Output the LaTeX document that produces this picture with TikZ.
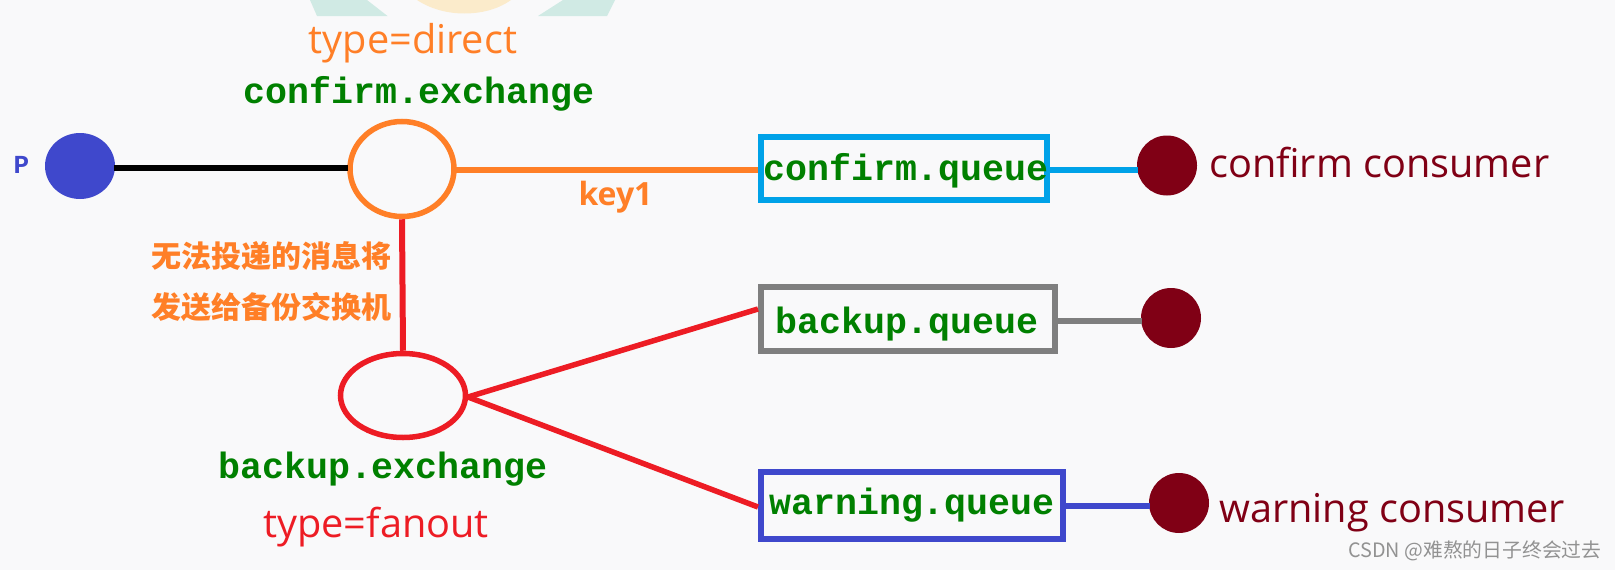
\documentclass[tikz,border=0pt]{standalone}
\usepackage{fontspec}
\setmainfont{Open Sans}
\newfontfamily\monof{Liberation Mono}
\newfontfamily\cjk{Noto Sans CJK SC}
\usetikzlibrary{shapes.geometric}
\definecolor{bgc}{HTML}{F9F9FA}
\definecolor{orangec}{HTML}{FF7F27}
\definecolor{redc}{HTML}{ED1C24}
\definecolor{cyanc}{HTML}{00A2E8}
\definecolor{greyc}{HTML}{7F7F7F}
\definecolor{indigoc}{HTML}{3F48CC}
\definecolor{maroonc}{HTML}{800015}
\definecolor{greenc}{HTML}{008000}
\definecolor{tealc}{HTML}{D0EAE4}
\definecolor{creamc}{HTML}{FBEBCB}
\tikzset{
  every node/.style={inner sep=0pt},
  dotnode/.style={ellipse,fill=#1,draw=none},
  exnode/.style={ellipse,draw=#1,line width=5.5pt,fill=none},
  boxnode/.style={rectangle,draw=#1,line width=6pt,fill=none},
  link/.style={draw=#1,line width=6pt},
  monotxt/.style={anchor=base,text=greenc,font={\monof\bfseries\fontsize{36.6pt}{40pt}\selectfont}},
  sanstxt/.style={anchor=base,text=#1,font={\fontsize{39.7pt}{44pt}\selectfont}},
  cjktxt/.style={anchor=base,text=orangec,font={\cjk\bfseries\fontsize{30pt}{34pt}\selectfont}},
}
\begin{document}
\begin{tikzpicture}[x=1pt,y=-1pt]
\useasboundingbox (0,0) rectangle (1615,570);
\fill[bgc] (0,0) rectangle (1615,570);
% cropped decoration at the top
\fill[tealc] (310,0) -- (367,0) -- (387.5,16) -- (317,16) -- cycle;
\fill[tealc] (563,0) -- (615,0) -- (607,16) -- (538,16) -- cycle;
\fill[creamc] (417,0) .. controls (432,10) and (450,13.5) .. (464,13.5) .. controls (480,13.5) and (497,10) .. (511,0) -- cycle;
% nodes
\node[dotnode=indigoc,minimum width=70pt,minimum height=66pt] (pdot) at (80,166) {};
\node[exnode=orangec,minimum width=104pt,minimum height=95pt] (cex) at (402,169) {};
\node[exnode=redc,minimum width=125pt,minimum height=84pt] (bex) at (403,395.5) {};
\node[boxnode=cyanc,minimum width=286pt,minimum height=63pt] (cq) at (904,168.5) {};
\node[boxnode=greyc,minimum width=294pt,minimum height=64pt] (bq) at (908,319) {};
\node[boxnode=indigoc,minimum width=302pt,minimum height=67pt] (wq) at (912,505.5) {};
\node[dotnode=maroonc,minimum width=60pt,minimum height=60pt] (cc) at (1167,165.5) {};
\node[dotnode=maroonc,minimum width=60pt,minimum height=60pt] (bc) at (1171,318) {};
\node[dotnode=maroonc,minimum width=60pt,minimum height=60pt] (wc) at (1179,503) {};
\coordinate (bqin) at (758,309);
\coordinate (wqin) at (758,507);
\coordinate (bexout) at (468,397);
\coordinate (pout) at (114,168);
\coordinate (cexin) at (348,168);
\coordinate (cexout) at (456,170);
\coordinate (cqin) at (758,170);
\coordinate (cqout) at (1050,170);
\coordinate (ccin) at (1138,170);
\coordinate (bqout) at (1058,321);
\coordinate (bcin) at (1142,321);
\coordinate (wqout) at (1066,506);
\coordinate (wcin) at (1150,506);
% connectors
\draw[link=black] (pout) -- (cexin);
\draw[link=orangec] (cexout) -- (cqin);
\draw[link=cyanc] (cqout) -- (ccin);
\draw[link=greyc] (bqout) -- (bcin);
\draw[link=indigoc] (wqout) -- (wcin);
\draw[link=redc] (cex.south) -- (bex.north);
\draw[link=redc,line width=5.5pt] (bexout) -- (bqin);
\draw[link=redc,line width=5.5pt] (bexout) -- (wqin);
% text
\node[anchor=base,text=indigoc,font={\monof\bfseries\fontsize{26pt}{28pt}\selectfont}] (ptxt) at (21.5,173) {P};
\node[sanstxt=orangec] (t1) at (413,53) {type=direct};
\node[monotxt] (t2) at (419,103) {confirm.exchange};
\node[anchor=base,text=orangec,font={\bfseries\fontsize{32pt}{36pt}\selectfont}] (t3) at (615.5,205) {key1};
\node[cjktxt] (t4) at (271.5,267) {无法投递的消息将};
\node[cjktxt] (t5) at (271.5,318) {发送给备份交换机};
\node[monotxt] (t6) at (383,478) {backup.exchange};
\node[sanstxt=redc] (t7) at (376,537) {type=fanout};
\node[monotxt] (t8) at (906,180) {confirm.queue};
\node[monotxt] (t9) at (907,333) {backup.queue};
\node[monotxt] (t10) at (912,514) {warning.queue};
\node[sanstxt=maroonc,anchor=base west] (t11) at (1209,177) {confirm consumer};
\node[sanstxt=maroonc,anchor=base west] (t12) at (1219,522) {warning consumer};
\node[anchor=base west,text=greyc!85,font={\cjk\fontsize{19.8pt}{24pt}\selectfont}] (t13) at (1348,557) {CSDN @难熬的日子终会过去};
\end{tikzpicture}
\end{document}
